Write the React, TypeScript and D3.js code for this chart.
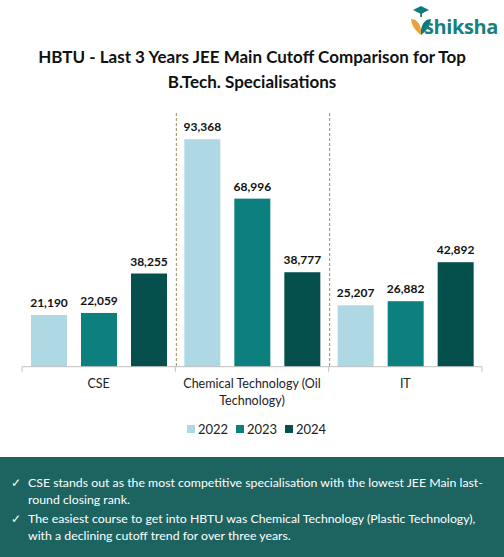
import React from "react";
import * as d3 from "d3";

const categories = ["CSE", "Chemical Technology (Oil Technology)", "IT"];
const categoryLines = [["CSE"], ["Chemical Technology (Oil", "Technology)"], ["IT"]];
const years = ["2022", "2023", "2024"];
const cutoff2022 = [21190, 93368, 25207];
const cutoff2023 = [22059, 68996, 26882];
const cutoff2024 = [38255, 38777, 42892];
const seriesValues = [cutoff2022, cutoff2023, cutoff2024];
const colors = ["#ADD8E4", "#0B807E", "#05504D"];
const title = ["HBTU - Last 3 Years JEE Main Cutoff Comparison for Top", "B.Tech. Specialisations"];
const notes = [
  ["CSE stands out as the most competitive specialisation with the lowest JEE Main last-", "round closing rank."],
  ["The easiest course to get into HBTU was Chemical Technology (Plastic Technology),", "with a declining cutoff trend for over three years."],
];

const W = 504, H = 557;
const FONT = "Lato, 'Liberation Sans', sans-serif";

export default function App() {
  const baseY = 366.7;
  const x = d3.scaleBand<string>().domain(categories).range([22, 482]).padding(0);
  const xi = d3.scaleBand<string>().domain(years).range([9, 145]).paddingInner(0.28).paddingOuter(0);
  const y = d3.scaleLinear().domain([0, 100000]).range([baseY, baseY - 243.6]);
  const fmt = d3.format(",");
  const bw = x.bandwidth();
  const ticks = [...categories.map((c) => x(c)!), x(categories[2])! + bw];

  return (
    <svg width={W} height={H} style={{ position: "absolute", left: 0, top: 0, background: "#fff" }} fontFamily={FONT}>
      <rect x={0} y={0} width={W} height={H} fill="#fff" />
      {/* logo */}
      <g>
        <path d="M413,10 L421,6 L429,10 L421,14 Z" fill="#0E7C7B" />
        <rect x={420.2} y={13} width={1.8} height={4} fill="#0E7C7B" />
        <path d="M411,19 C415,19 420,22 421,30 L421,35 C416,31 412,27 411,19 Z" fill="#E8A33D" />
        <path d="M431,19 C427,19 422,22 421,30 L421,35 C426,31 430,27 431,19 Z" fill="#0E7C7B" />
        <text x={424} y={34} fontSize={20} fontWeight={700} fill="#17807E" fontFamily="'Open Sans', sans-serif" letterSpacing={-0.4}>shiksha</text>
      </g>
      {/* title */}
      {title.map((t, i) => (
        <text key={i} x={252} y={63 + i * 25} textAnchor="middle" fontSize={17} fontWeight={700} fill="#111">{t}</text>
      ))}
      {/* dividers */}
      {[1, 2].map((i) => (
        <line key={i} x1={ticks[i] + 1} x2={ticks[i] + 1} y1={113} y2={baseY} stroke="#9C8C5A" strokeWidth={1} strokeDasharray="3,2" />
      ))}
      {/* bars */}
      {categories.map((c, ci) => (
        <g key={c} transform={`translate(${x(c)},0)`}>
          {years.map((yr, yi) => {
            const v = seriesValues[yi][ci];
            const bx = xi(yr)!;
            return (
              <g key={yr}>
                <rect x={bx} y={y(v)} width={xi.bandwidth()} height={baseY - y(v)} fill={colors[yi]} />
                <text x={bx + xi.bandwidth() / 2} y={y(v) - 8} textAnchor="middle" fontSize={12} fontWeight={700} fill="#111">{fmt(v)}</text>
              </g>
            );
          })}
        </g>
      ))}
      {/* axis */}
      <line x1={22} x2={482} y1={baseY} y2={baseY} stroke="#BFBFBF" strokeWidth={1} />
      {ticks.map((t, i) => (
        <line key={i} x1={t} x2={t} y1={baseY} y2={baseY + 5} stroke="#BFBFBF" strokeWidth={1} />
      ))}
      {categories.map((c, ci) =>
        categoryLines[ci].map((ln, li) => (
          <text key={c + li} x={x(c)! + bw / 2} y={388 + li * 17} textAnchor="middle" fontSize={12.5} fill="#222">{ln}</text>
        ))
      )}
      {/* legend */}
      {years.map((yr, i) => {
        const lx = [187, 236, 285][i];
        return (
          <g key={yr}>
            <rect x={lx} y={425} width={8} height={8} fill={colors[i]} />
            <text x={lx + 11} y={434} fontSize={13} fill="#222">{yr}</text>
          </g>
        );
      })}
      {/* notes box */}
      <rect x={0} y={457} width={W} height={H - 457} fill="#1D6461" />
      {notes.map((para, pi) =>
        para.map((ln, li) => {
          const yy = 487 + pi * 36 + li * 17;
          return (
            <g key={pi + "-" + li}>
              {li === 0 && <text x={11} y={yy} fontSize={12} fill="#fff">✓</text>}
              <text x={28} y={yy} fontSize={12.3} fill="#fff">{ln}</text>
            </g>
          );
        })
      )}
    </svg>
  );
}
